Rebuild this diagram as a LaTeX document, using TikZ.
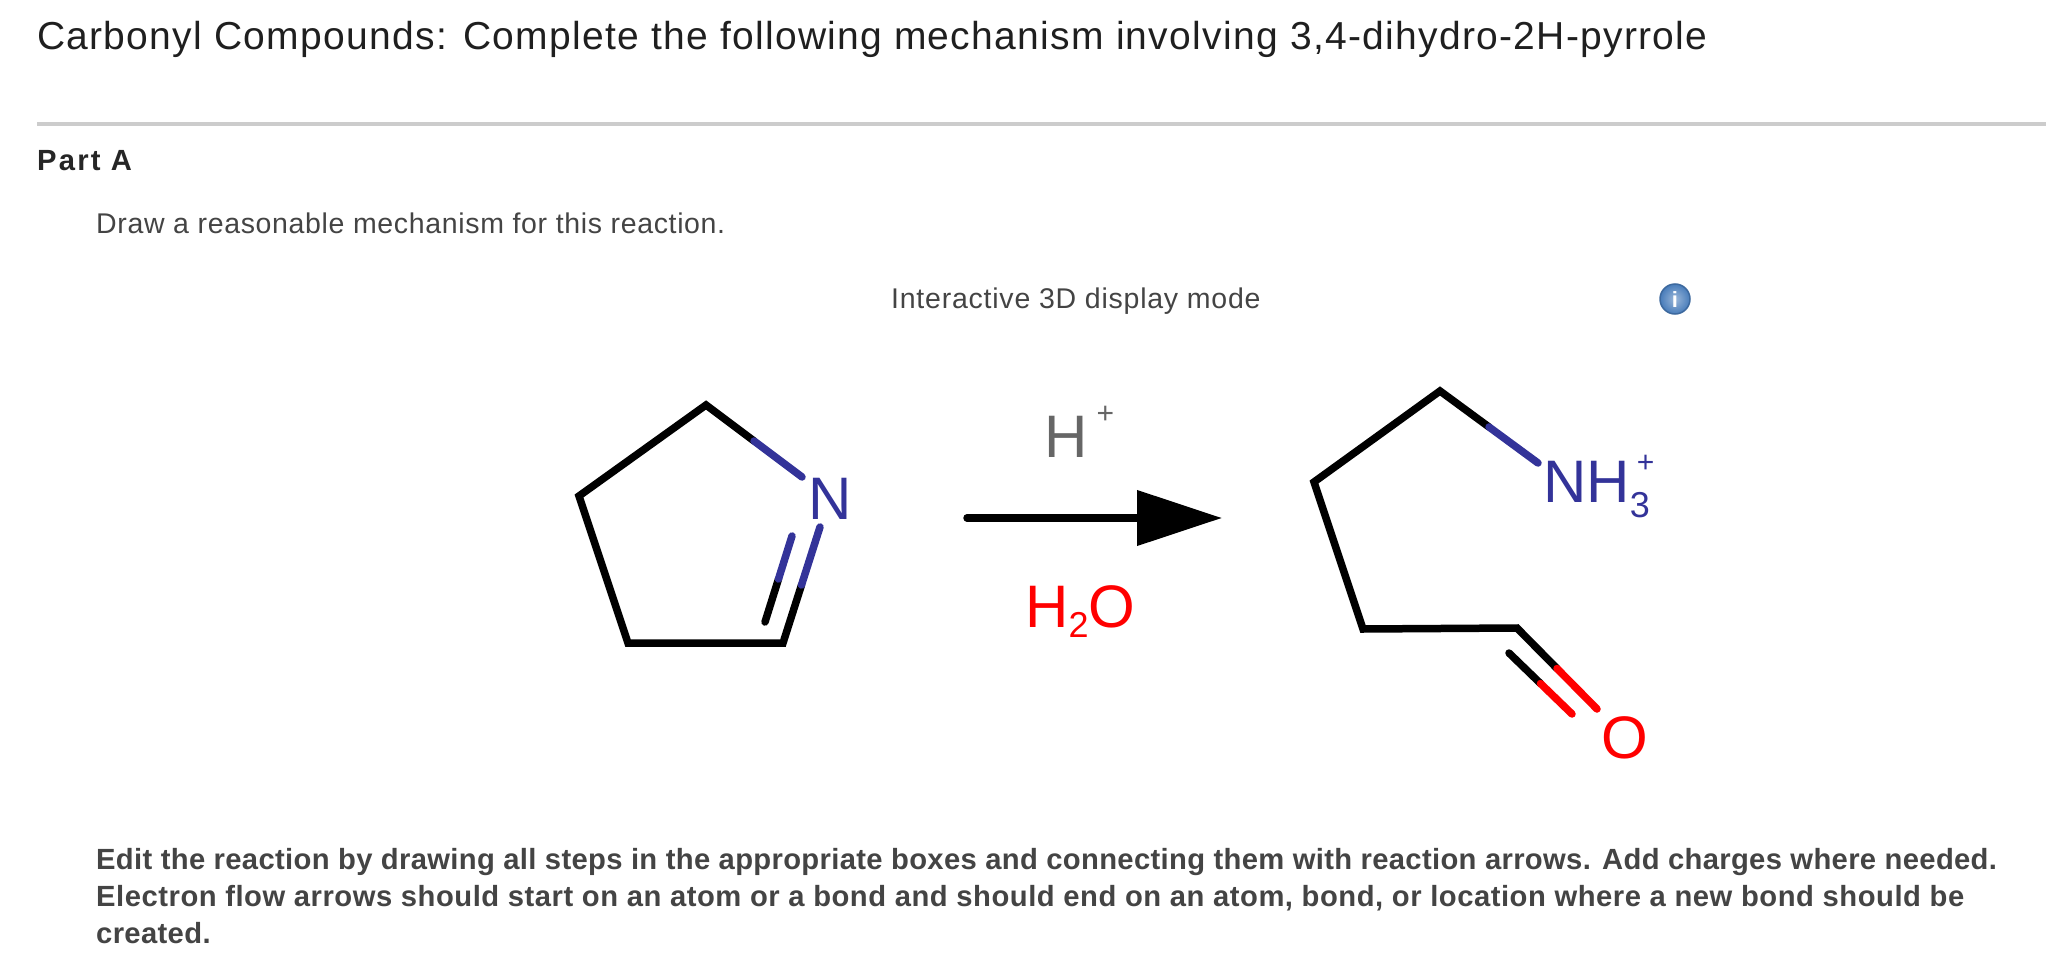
\documentclass[tikz,border=0pt]{standalone}
\usepackage{fontspec}
\setmainfont{Liberation Sans}
\usepackage{xcolor}
\usepackage{tikz}
\usetikzlibrary{arrows.meta, calc}
\definecolor{nitrogenColor}{RGB}{51, 51, 153}
\definecolor{oxygenColor}{RGB}{255, 0, 0}
\definecolor{bodyColor}{RGB}{68, 68, 68}
\definecolor{ruleColor}{RGB}{204, 204, 204}
\definecolor{infoColor}{RGB}{72, 124, 186}
\newcommand{\subatom}[2]{\raisebox{#1}{\fontsize{36}{36}\selectfont #2}}
\newcommand{\supatom}[1]{\raisebox{#1}{\fontsize{30}{30}\selectfont +}}
\newcommand{\spaced}[1]{\addfontfeatures{LetterSpace=#1}}
\tikzset{
    bond/.style={line width=7.5pt, line cap=round, line join=miter},
    atom/.style={font=\fontsize{60}{60}\selectfont, inner sep=0pt, anchor=base west},
    heading/.style={font=\fontsize{39}{39}\selectfont\spaced{3.3}, text=black!88, inner sep=0pt, anchor=base west},
    bodytext/.style={font=\fontsize{28.5}{28.5}\selectfont\spaced{#1}, text=bodyColor, inner sep=0pt, anchor=base west},
    bodytext/.default=2.3,
    boldtext/.style={font=\fontsize{29.2}{29.2}\selectfont\bfseries\spaced{#1}, text=bodyColor, inner sep=0pt, anchor=base west},
    boldtext/.default=1.2
}

\begin{document}
\begin{tikzpicture}[x=1pt, y=-1pt]
    \useasboundingbox (0,0) rectangle (2046,963);

    % Header
    \node[heading] (title) at (37,50) {Carbonyl Compounds: Complete the following mechanism involving 3,4-dihydro-2H-pyrrole};
    \coordinate (ruleleft) at (37,124);
    \coordinate (ruleright) at (2046,124);
    \draw[ruleColor, line width=3.5pt] (ruleleft) -- (ruleright);
    \node[boldtext=7.5, text=black!85] (parta) at (37,171) {Part A};
    \node[bodytext] (prompt) at (96,233) {Draw a reasonable mechanism for this reaction.};
    \node[bodytext=2.7] (mode) at (891,308) {Interactive 3D display mode};

    % Info icon
    \shade[inner color=infoColor!55, outer color=infoColor, draw=infoColor!85!black, line width=1.5pt] (1675,299) circle (15);
    \node[font=\fontsize{22}{22}\selectfont\bfseries, text=white, inner sep=0pt] (info) at (1675,300) {i};

    % Reactant ring
    \coordinate (rtop) at (706,405);
    \coordinate (rleft) at (579,496);
    \coordinate (rbl) at (628,643);
    \coordinate (rbr) at (783,643);
    \coordinate (rnup) at (802,477);
    \coordinate (rndown) at (820,527);
    \coordinate (rinA) at (765,622);
    \coordinate (rinB) at (792,536);
    \draw[bond] ($(rtop)!0.5!(rnup)$) -- (rtop) -- (rleft) -- (rbl) -- (rbr) -- ($(rbr)!0.5!(rndown)$);
    \draw[bond, nitrogenColor] ($(rtop)!0.5!(rnup)$) -- (rnup);
    \draw[bond, nitrogenColor] ($(rbr)!0.5!(rndown)$) -- (rndown);
    \draw[bond] (rinA) -- ($(rinA)!0.5!(rinB)$);
    \draw[bond, nitrogenColor] ($(rinA)!0.5!(rinB)$) -- (rinB);
    \node[atom, text=nitrogenColor] (rN) at (808,519) {N};

    % Reaction arrow
    \coordinate (arrowstart) at (967,518);
    \coordinate (arrowend) at (1222,518);
    \draw[line width=7.5pt, line cap=round, -{Triangle[length=85pt, width=54pt]}] (arrowstart) -- (arrowend);
    \node[atom, text=black!60] (acid) at (1044,457) {H\kern9pt\supatom{34pt}};
    \node[atom, text=oxygenColor] (water) at (1025,627) {H\subatom{-10pt}{2}O};

    % Product chain
    \coordinate (ptop) at (1440,391);
    \coordinate (pleft) at (1314,482);
    \coordinate (pbl) at (1363,629);
    \coordinate (pbr) at (1517,628);
    \coordinate (pnend) at (1538,463);
    \coordinate (poend) at (1597,709);
    \coordinate (pinA) at (1509,653);
    \coordinate (pinB) at (1572,714);
    \draw[bond] ($(ptop)!0.5!(pnend)$) -- (ptop) -- (pleft) -- (pbl) -- (pbr) -- ($(pbr)!0.5!(poend)$);
    \draw[bond, nitrogenColor] ($(ptop)!0.5!(pnend)$) -- (pnend);
    \draw[bond, oxygenColor] ($(pbr)!0.5!(poend)$) -- (poend);
    \draw[bond] (pinA) -- ($(pinA)!0.5!(pinB)$);
    \draw[bond, oxygenColor] ($(pinA)!0.5!(pinB)$) -- (pinB);
    \node[atom, text=nitrogenColor] (pN) at (1543,502) {NH\rlap{\kern7pt\supatom{30pt}}\subatom{-15pt}{3}};
    \node[atom, text=oxygenColor] (pO) at (1601,758) {O};

    % Instructions
    \node[boldtext=1.15] (lineone) at (96,869) {Edit the reaction by drawing all steps in the appropriate boxes and connecting them with reaction arrows. Add charges where needed.};
    \node[boldtext=1.8] (linetwo) at (96,906) {Electron flow arrows should start on an atom or a bond and should end on an atom, bond, or location where a new bond should be};
    \node[boldtext] (linethree) at (96,943) {created.};
\end{tikzpicture}
\end{document}
